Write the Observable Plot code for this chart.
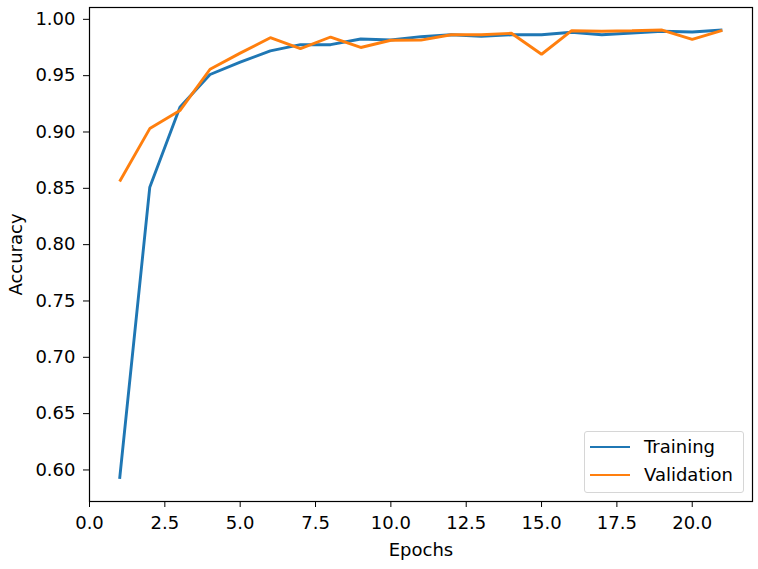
<!DOCTYPE html>
<html>
<head>
<meta charset="utf-8">
<script src="https://cdn.jsdelivr.net/npm/d3@7"></script>
<script src="https://cdn.jsdelivr.net/npm/@observablehq/plot@0.6"></script>
<style>
  html, body { margin: 0; padding: 0; background: white; }
  #wrap { position: relative; width: 758px; height: 569px; font-family: "DejaVu Sans", sans-serif; }
  #legend {
    position: absolute; left: 584px; top: 431px; width: 158px; height: 60px;
    border: 1px solid #d6d6d6; border-radius: 3px; background: rgba(255,255,255,0.8);
    font-size: 18px; color: black; line-height: 20px;
  }
  .item { position: absolute; left: 5px; display: flex; align-items: center; height: 20px; }
  .swatch { width: 40px; height: 0; border-top: 2.8px solid; margin-right: 14px; }
</style>
</head>
<body>
<div id="wrap"></div>
<script>
const epochs = [1,2,3,4,5,6,7,8,9,10,11,12,13,14,15,16,17,18,19,20,21];
const training = [0.592,0.851,0.922,0.951,0.962,0.972,0.9775,0.9775,0.9825,0.9816,0.9846,0.9863,0.985,0.9863,0.9863,0.9885,0.9863,0.9879,0.9894,0.9887,0.9905];
const validation = [0.856,0.903,0.919,0.9557,0.970,0.9837,0.974,0.9843,0.975,0.9814,0.9815,0.9863,0.9863,0.9876,0.969,0.9899,0.9894,0.9899,0.9905,0.9823,0.9902];
const seriesNames = ["Training", "Validation"];
const seriesColors = ["#1f77b4", "#ff7f0e"];
const xTicks = [0, 2.5, 5, 7.5, 10, 12.5, 15, 17.5, 20];
const yTicks = [0.60, 0.65, 0.70, 0.75, 0.80, 0.85, 0.90, 0.95, 1.00];

const rows = [];
epochs.forEach((e, i) => {
  rows.push({epoch: e, acc: training[i], series: seriesNames[0]});
  rows.push({epoch: e, acc: validation[i], series: seriesNames[1]});
});

const chart = Plot.plot({
  width: 758, height: 569,
  marginLeft: 89, marginRight: 6, marginTop: 7, marginBottom: 68,
  style: {fontFamily: "DejaVu Sans, sans-serif", fontSize: "18px", color: "black", background: "white", overflow: "visible"},
  x: {domain: [0, 22]},
  y: {domain: [0.572, 1.0105]},
  color: {domain: seriesNames, range: seriesColors},
  marks: [
    Plot.axisX({ticks: xTicks, tickFormat: d => d.toFixed(1), tickSize: 6, tickPadding: 9,
      label: "Epochs", labelAnchor: "center", labelArrow: "none", labelOffset: 54, stroke: "black"}),
    Plot.axisY({ticks: yTicks, tickFormat: d => d.toFixed(2), tickSize: 6, tickPadding: 8,
      label: "Accuracy", labelAnchor: "center", labelArrow: "none", labelOffset: 80, stroke: "black"}),
    Plot.line(rows, {x: "epoch", y: "acc", z: "series", stroke: "series", strokeWidth: 2.9, strokeLinejoin: "miter", strokeLinecap: "butt"}),
    Plot.frame({stroke: "black", strokeWidth: 1.2})
  ]
});

const wrap = document.getElementById("wrap");
wrap.appendChild(chart);
const legend = document.createElement("div");
legend.id = "legend";
seriesNames.forEach((name, i) => {
  const item = document.createElement("div");
  item.className = "item";
  item.style.top = (4.7 + i * 28.3) + "px";
  const sw = document.createElement("span");
  sw.className = "swatch";
  sw.style.borderColor = seriesColors[i];
  const lab = document.createElement("span");
  lab.textContent = name;
  item.appendChild(sw); item.appendChild(lab);
  legend.appendChild(item);
});
wrap.appendChild(legend);
</script>
</body>
</html>
